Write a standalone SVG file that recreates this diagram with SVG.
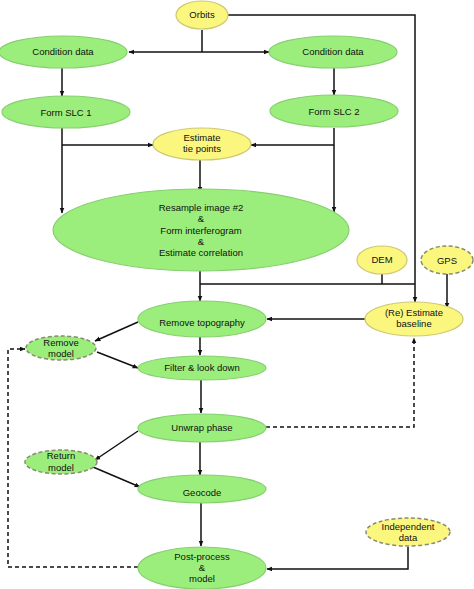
<svg xmlns="http://www.w3.org/2000/svg" width="474" height="589" viewBox="0 0 474 589">
<style>
.g{fill:#9bee7b;stroke:#86cf70;stroke-width:1.2}
.y{fill:#fbf77e;stroke:#cfc873;stroke-width:1.2}
.d{stroke:#8a8a70;stroke-dasharray:4 2.5;stroke-width:1.5}
text{font-family:"Liberation Sans",Arial,sans-serif;font-size:9.5px;fill:#111;text-anchor:middle}
.c path{fill:none;stroke:#111;stroke-width:1.5}
.c .k{stroke-dasharray:4 3}
</style>
<defs>
<marker id="a" viewBox="0 0 10 10" refX="9" refY="5" markerWidth="6" markerHeight="6" orient="auto" markerUnits="userSpaceOnUse">
<path d="M0,1 L10,5 L0,9 Z" fill="#111"/>
</marker>
</defs>
<rect width="474" height="589" fill="#fff"/>
<g class="c">
<path d="M228,15 H415 V302" marker-end="url(#a)"/>
<path d="M202,30 V52"/>
<path d="M202,52 H129" marker-end="url(#a)"/>
<path d="M202,52 H269" marker-end="url(#a)"/>
<path d="M62,68 V96" marker-end="url(#a)"/>
<path d="M334,68 V95" marker-end="url(#a)"/>
<path d="M62,128 V213" marker-end="url(#a)"/>
<path d="M62,145 H153" marker-end="url(#a)"/>
<path d="M334,128 V212" marker-end="url(#a)"/>
<path d="M334,145 H251" marker-end="url(#a)"/>
<path d="M200,160 V192" marker-end="url(#a)"/>
<path d="M200,271 V301" marker-end="url(#a)"/>
<path d="M200,284 H415"/>
<path d="M382,274 V284"/>
<path d="M447,274 V308" marker-end="url(#a)"/>
<path d="M366,319 H267" marker-end="url(#a)"/>
<path d="M138,322 L95,341" marker-end="url(#a)"/>
<path d="M97,352 L138,368" marker-end="url(#a)"/>
<path d="M200,337 V355" marker-end="url(#a)"/>
<path d="M201,380 V413" marker-end="url(#a)"/>
<path class="k" d="M266,427 H414 V338" marker-end="url(#a)"/>
<path d="M138,431 L95,460" marker-end="url(#a)"/>
<path d="M93,467 L140,487" marker-end="url(#a)"/>
<path d="M200,442 V475" marker-end="url(#a)"/>
<path d="M201,503 V546" marker-end="url(#a)"/>
<path d="M408,547 V569 H267" marker-end="url(#a)"/>
<path class="k" d="M138,567 H8 V349 H25" marker-end="url(#a)"/>
</g>
<g id="orbits"><ellipse class="y" cx="202" cy="15" rx="26" ry="14"/><text x="202" y="18">Orbits</text></g>
<g id="cond1"><ellipse class="g" cx="63" cy="52" rx="64" ry="16"/><text x="63" y="55">Condition data</text></g>
<g id="cond2"><ellipse class="g" cx="333" cy="52" rx="64" ry="16"/><text x="333" y="55">Condition data</text></g>
<g id="slc1"><ellipse class="g" cx="66" cy="112" rx="64" ry="16"/><text x="66" y="116">Form SLC 1</text></g>
<g id="slc2"><ellipse class="g" cx="334" cy="111" rx="64" ry="16"/><text x="334" y="115">Form SLC 2</text></g>
<g id="tie"><ellipse class="y" cx="202" cy="144" rx="49" ry="16"/><text x="202" y="141">Estimate</text><text x="202" y="152">tie points</text></g>
<g id="resample"><ellipse class="g" cx="201" cy="230" rx="148" ry="41"/>
<text x="201" y="211">Resample image #2</text><text x="201" y="222">&amp;</text><text x="201" y="234">Form interferogram</text><text x="201" y="245">&amp;</text><text x="201" y="256">Estimate correlation</text></g>
<g id="dem"><ellipse class="y" cx="382" cy="260" rx="25" ry="14"/><text x="382" y="263">DEM</text></g>
<g id="gps"><ellipse class="y d" cx="447" cy="260" rx="26" ry="14"/><text x="447" y="264">GPS</text></g>
<g id="baseline"><ellipse class="y" cx="414" cy="319" rx="49" ry="17"/><text x="414" y="316">(Re) Estimate</text><text x="414" y="327">baseline</text></g>
<g id="topo"><ellipse class="g" cx="202" cy="319" rx="64" ry="18"/><text x="202" y="326">Remove topography</text></g>
<g id="rmodel"><ellipse class="g d" cx="61" cy="348" rx="35" ry="12"/><text x="61" y="346">Remove</text><text x="61" y="357">model</text></g>
<g id="filter"><ellipse class="g" cx="202" cy="368" rx="64" ry="12"/><text x="202" y="371">Filter &amp; look down</text></g>
<g id="unwrap"><ellipse class="g" cx="202" cy="428" rx="64" ry="14"/><text x="202" y="431">Unwrap phase</text></g>
<g id="retmodel"><ellipse class="g d" cx="61" cy="462" rx="36" ry="12"/><text x="61" y="459">Return</text><text x="61" y="471">model</text></g>
<g id="geocode"><ellipse class="g" cx="202" cy="489" rx="64" ry="14"/><text x="202" y="496">Geocode</text></g>
<g id="post"><ellipse class="g" cx="202" cy="568" rx="64" ry="21"/><text x="202" y="560">Post-process</text><text x="202" y="571">&amp;</text><text x="202" y="582">model</text></g>
<g id="indep"><ellipse class="y d" cx="408" cy="532" rx="42" ry="14"/><text x="408" y="530">Independent</text><text x="408" y="541">data</text></g>
</svg>
